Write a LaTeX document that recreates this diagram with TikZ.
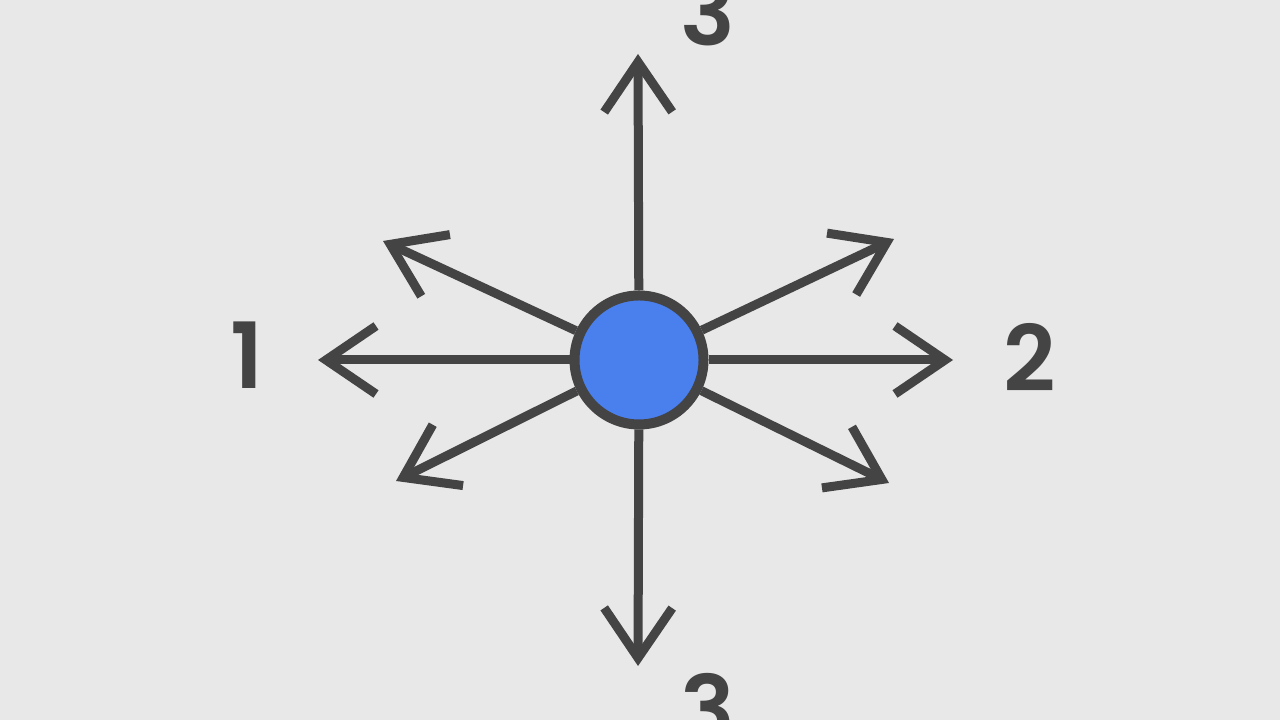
\documentclass[tikz,border=0pt]{standalone}
\usepackage{fontspec}
\newfontfamily\digitfont{Poppins SemiBold}
\usetikzlibrary {arrows.meta}

\definecolor{paper}{HTML}{E8E8E8}
\definecolor{ink}{HTML}{444444}
\definecolor{dotblue}{HTML}{4A80EE}

\begin{document}
\begin{tikzpicture}[
    ray/.style={ink, line width=0.09cm,
      -{Straight Barb[length=0.5cm, width=0.68cm, line width=0.09cm, line join=miter]}},
    digit/.style={ink, font=\digitfont\fontsize{26}{30}\selectfont}
  ]

  \fill [paper] (0,0) rectangle (12.8,7.2);
  \useasboundingbox (0,0) rectangle (12.8,7.2);

  \node (hub) at (6.39,3.60) [circle, draw=ink, fill=dotblue, line width=0.1cm,
    minimum size=1.29cm, inner sep=0pt] {};

  \coordinate (W)  at (3.18,3.60);
  \coordinate (E)  at (9.53,3.60);
  \coordinate (N)  at (6.38,6.66);
  \coordinate (S)  at (6.38,0.54);
  \coordinate (NW) at (3.83,4.79);
  \coordinate (NE) at (8.94,4.81);
  \coordinate (SW) at (3.96,2.39);
  \coordinate (SE) at (8.89,2.37);

  \path
    (hub) edge [ray] (W)
    (hub) edge [ray] (E)
    (hub) edge [ray] (N)
    (hub) edge [ray] (S)
    (hub) edge [ray] (NW)
    (hub) edge [ray] (NE)
    (hub) edge [ray] (SW)
    (hub) edge [ray] (SE);

  \node (one)   at (2.47,3.65)  [digit] {1};
  \node (two)   at (10.30,3.63) [digit] {2};
  \node (three) at (7.08,7.08)  [digit] {3};
  \node (four)  at (7.08,0.12)  [digit] {3};
\end{tikzpicture}
\end{document}
